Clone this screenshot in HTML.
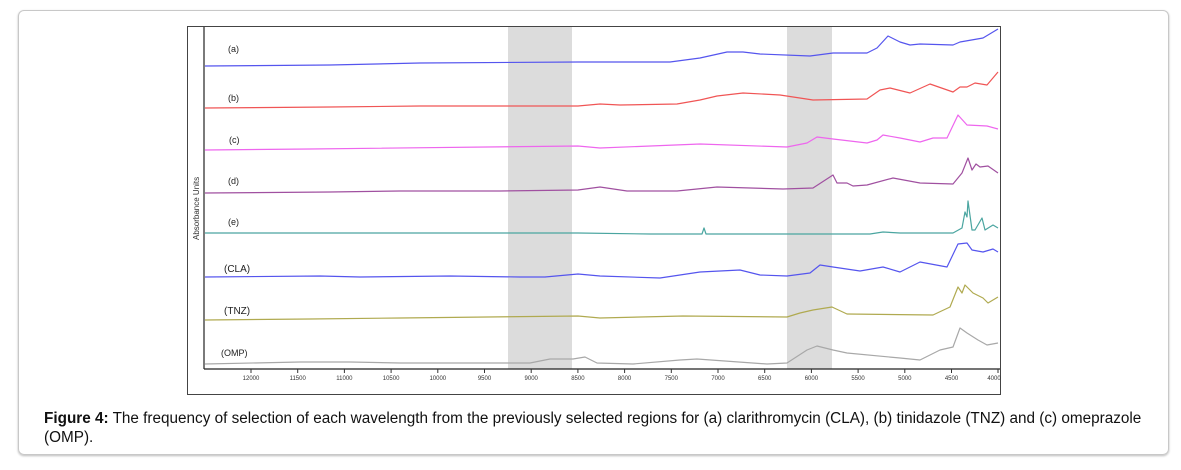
<!DOCTYPE html>
<html><head><meta charset="utf-8"><style>
html,body{margin:0;padding:0;background:#fff;width:1181px;height:470px;overflow:hidden;font-family:"Liberation Sans",Arial,sans-serif}
.card{position:absolute;left:18px;top:10px;width:1149px;height:443px;border:1px solid #c8c8c8;border-radius:6px;box-shadow:0 1px 2px #bbb}
.cap{position:absolute;left:44px;top:409px;width:1110px;font-size:15.3px;line-height:19px;color:#111}
</style></head><body>
<div class="card"></div>
<svg width="1181" height="470" style="position:absolute;left:0;top:0">
<rect x="187.5" y="26.5" width="813" height="368" fill="#fff" stroke="#444" stroke-width="1"/>
<rect x="508" y="27" width="64" height="342" fill="#dcdcdc"/>
<rect x="787" y="27" width="45" height="342" fill="#dcdcdc"/>
<line x1="204" y1="27" x2="204" y2="369" stroke="#222" stroke-width="1.2"/>
<line x1="204" y1="369" x2="1000" y2="369" stroke="#222" stroke-width="1.2"/>
<g stroke="#333" stroke-width="1">
<line x1="251" y1="369" x2="251" y2="373"/><line x1="297.7" y1="369" x2="297.7" y2="373"/><line x1="344.4" y1="369" x2="344.4" y2="373"/><line x1="391.1" y1="369" x2="391.1" y2="373"/><line x1="437.8" y1="369" x2="437.8" y2="373"/><line x1="484.5" y1="369" x2="484.5" y2="373"/><line x1="531.2" y1="369" x2="531.2" y2="373"/><line x1="577.9" y1="369" x2="577.9" y2="373"/><line x1="624.6" y1="369" x2="624.6" y2="373"/><line x1="671.3" y1="369" x2="671.3" y2="373"/><line x1="718" y1="369" x2="718" y2="373"/><line x1="764.7" y1="369" x2="764.7" y2="373"/><line x1="811.4" y1="369" x2="811.4" y2="373"/><line x1="858.1" y1="369" x2="858.1" y2="373"/><line x1="904.8" y1="369" x2="904.8" y2="373"/><line x1="951.5" y1="369" x2="951.5" y2="373"/><line x1="998" y1="369" x2="998" y2="373"/>
</g>
<g font-size="6" fill="#333" text-anchor="middle" font-family="Liberation Sans,sans-serif">
<text x="251" y="380">12000</text><text x="297.7" y="380">11500</text><text x="344.4" y="380">11000</text><text x="391.1" y="380">10500</text><text x="437.8" y="380">10000</text><text x="484.5" y="380">9500</text><text x="531.2" y="380">9000</text><text x="577.9" y="380">8500</text><text x="624.6" y="380">8000</text><text x="671.3" y="380">7500</text><text x="718" y="380">7000</text><text x="764.7" y="380">6500</text><text x="811.4" y="380">6000</text><text x="858.1" y="380">5500</text><text x="904.8" y="380">5000</text><text x="951.5" y="380">4500</text><text x="994" y="380">4000</text>
</g>
<text x="0" y="0" font-size="8" fill="#333" transform="translate(199,240) rotate(-90)">Absorbance Units</text>
<g font-size="9" fill="#222" font-family="Liberation Sans,sans-serif">
<text x="228" y="52">(a)</text><text x="228" y="101">(b)</text><text x="229" y="143">(c)</text><text x="228" y="184">(d)</text><text x="228" y="225">(e)</text>
<text x="224" y="272" font-size="10">(CLA)</text><text x="224" y="314" font-size="10">(TNZ)</text><text x="221" y="356" font-size="9">(OMP)</text>
</g>
<g fill="none" stroke-width="1.2" stroke-linejoin="round">
<polyline stroke="#5555ee" points="205,66 330,65 420,63 578,62 600,62 670,62 700,58 727,52 743,52 760,54 810,56 833,53 867,53 877,48 888,36 900,42 910,45 920,44 953,45 960,42 983,38 998,29"/>
<polyline stroke="#f05555" points="205,108 330,107 420,106 578,106 600,104 620,105 677,104 700,100 717,96 743,93 780,95 813,100 867,99 880,90 890,88 910,93 930,84 953,92 960,87 967,87 975,83 987,85 998,72"/>
<polyline stroke="#ee66ee" points="205,150 310,149 578,146 600,148 700,144 787,147 807,143 817,137 833,139 867,143 877,140 883,135 900,138 920,142 933,138 947,138 958,115 967,125 987,126 998,129"/>
<polyline stroke="#a050a0" points="205,193 330,192 400,191 430,191 500,191 578,190 600,187 627,191 677,191 717,187 783,189 813,188 833,175 837,183 847,183 853,186 867,185 893,178 920,183 953,184 962,173 968,158 972,170 976,164 980,167 988,166 998,173"/>
<polyline stroke="#4aa5a0" points="205,233 500,233 578,233 650,234 702,234 704,228 706,234 800,234 870,234 883,232 900,233 953,233 962,228 965,212 967,217 968,201 972,230 975,230 982,218 985,230 993,225 998,228"/>
<polyline stroke="#5555ee" points="205,277 320,276 360,277 450,276 520,277 545,277 578,274 600,276 660,278 700,272 740,270 760,275 787,276 810,273 820,265 833,267 860,271 883,267 900,272 920,262 947,267 958,244 967,243 972,250 983,252 993,249 998,252"/>
<polyline stroke="#b0aa50" points="205,320 310,319 400,318 578,316 600,318 683,316 787,317 800,313 813,310 832,307 847,314 933,315 950,307 958,287 962,293 965,285 973,293 983,298 988,303 998,297"/>
<polyline stroke="#a8a8a8" points="205,364 300,362 350,362 400,363 500,363 530,363 550,359 573,359 585,357 597,363 633,364 680,360 697,359 767,364 787,363 807,350 817,346 833,350 847,353 900,358 920,360 940,350 953,347 960,328 967,333 978,340 987,345 998,343"/>
</g>
</svg>
<div class="cap"><b>Figure 4:</b> The frequency of selection of each wavelength from the previously selected regions for (a) clarithromycin (CLA), (b) tinidazole (TNZ) and (c) omeprazole (OMP).</div>
</body></html>
